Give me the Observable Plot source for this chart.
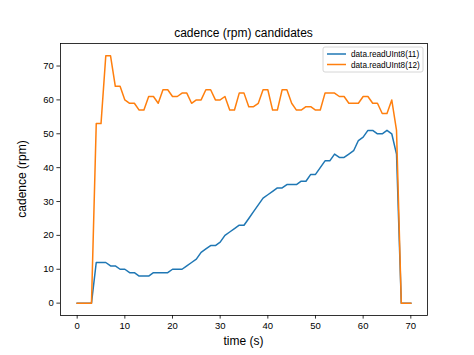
<!DOCTYPE html>
<html>
<head>
<meta charset="utf-8">
<script src="https://cdn.jsdelivr.net/npm/d3@7"></script>
<script src="https://cdn.jsdelivr.net/npm/@observablehq/plot@0.6"></script>
<style>
  html, body { margin: 0; padding: 0; background: #fff; }
  #chart { width: 474px; height: 355px; }
</style>
</head>
<body>
<div id="chart"></div>
<script>
const time = [0,1,2,3,4,5,6,7,8,9,10,11,12,13,14,15,16,17,18,19,20,21,22,23,24,25,26,27,28,29,30,31,32,33,34,35,36,37,38,39,40,41,42,43,44,45,46,47,48,49,50,51,52,53,54,55,56,57,58,59,60,61,62,63,64,65,66,67,68,69,70];
const byte11 = [0,0,0,0,12,12,12,11,11,10,10,9,9,8,8,8,9,9,9,9,10,10,10,11,12,13,15,16,17,17,18,20,21,22,23,23,25,27,29,31,32,33,34,34,35,35,35,36,36,38,38,40,42,42,44,43,43,44,45,48,49,51,51,50,50,51,50,44,0,0,0];
const byte12 = [0,0,0,0,53,53,73,73,64,64,60,59,59,57,57,61,61,59,63,63,61,61,62,62,59,60,60,63,63,60,60,61,57,57,62,62,58,58,59,63,63,57,57,63,63,59,57,57,58,58,57,57,62,62,62,61,61,59,59,59,61,61,59,59,56,56,60,51,0,0,0];
const seriesNames = ["data.readUInt8(11)", "data.readUInt8(12)"];
const seriesColors = ["#1f77b4", "#ff7f0e"];
const xTicks = [0,10,20,30,40,50,60,70];
const yTicks = [0,10,20,30,40,50,60,70];
const titleText = "cadence (rpm) candidates";
const xLabel = "time (s)";
const yLabel = "cadence (rpm)";

const rows = [];
[byte11, byte12].forEach((vals, si) => {
  vals.forEach((v, i) => rows.push({t: time[i], v, s: seriesNames[si]}));
});

const W = 474, H = 355;
const mL = 60, mR = 47, mT = 43, mB = 40;
const font = "Liberation Sans, Arial, sans-serif";

const plot = Plot.plot({
  width: W, height: H,
  marginLeft: mL, marginRight: mR, marginTop: mT, marginBottom: mB,
  style: {fontFamily: font, background: "#fff", overflow: "visible"},
  x: {domain: [-3.5, 73.5]},
  y: {domain: [-3.65, 76.65]},
  color: {domain: seriesNames, range: seriesColors},
  marks: [
    Plot.axisX({ticks: xTicks, tickSize: 3.6, tickPadding: 3, fontSize: 9.5, label: null, stroke: "#000", strokeWidth: 0.8, color: "#000", tickFormat: d => String(d)}),
    Plot.axisY({ticks: yTicks, tickSize: 3.6, tickPadding: 3, fontSize: 9.5, label: null, stroke: "#000", strokeWidth: 0.8, color: "#000", tickFormat: d => String(d)}),
    Plot.line(rows, {x: "t", y: "v", z: "s", stroke: "s", strokeWidth: 1.5, strokeLinejoin: "round", strokeLinecap: "square"}),
    Plot.frame({stroke: "#000", strokeWidth: 0.8})
  ]
});
document.getElementById("chart").appendChild(plot);

const svg = d3.select(plot);
const cx = mL + (W - mL - mR) / 2;
svg.append("text").attr("x", cx).attr("y", 37).attr("text-anchor", "middle")
  .attr("font-family", font).attr("font-size", 12).attr("fill", "#000").text(titleText);
svg.append("text").attr("x", cx).attr("y", 345).attr("text-anchor", "middle")
  .attr("font-family", font).attr("font-size", 12).attr("fill", "#000").text(xLabel);
svg.append("text").attr("transform", `translate(26,${mT + (H - mT - mB) / 2}) rotate(-90)`).attr("text-anchor", "middle")
  .attr("font-family", font).attr("font-size", 12).attr("fill", "#000").text(yLabel);

// legend
const lx = 323, ly = 47, lw = 100, lh = 25;
const g = svg.append("g");
g.append("rect").attr("x", lx).attr("y", ly).attr("width", lw).attr("height", lh)
  .attr("rx", 2).attr("fill", "#fff").attr("fill-opacity", 0.8).attr("stroke", "#cccccc").attr("stroke-width", 0.8);
seriesNames.forEach((name, i) => {
  const yy = ly + 7 + i * 10.5;
  g.append("line").attr("x1", lx + 4).attr("x2", lx + 23).attr("y1", yy).attr("y2", yy)
    .attr("stroke", seriesColors[i]).attr("stroke-width", 1.5);
  g.append("text").attr("x", lx + 28).attr("y", yy + 3).attr("text-anchor", "start").attr("font-family", font)
    .attr("font-size", 8.2).attr("fill", "#000").text(name);
});
</script>
</body>
</html>
